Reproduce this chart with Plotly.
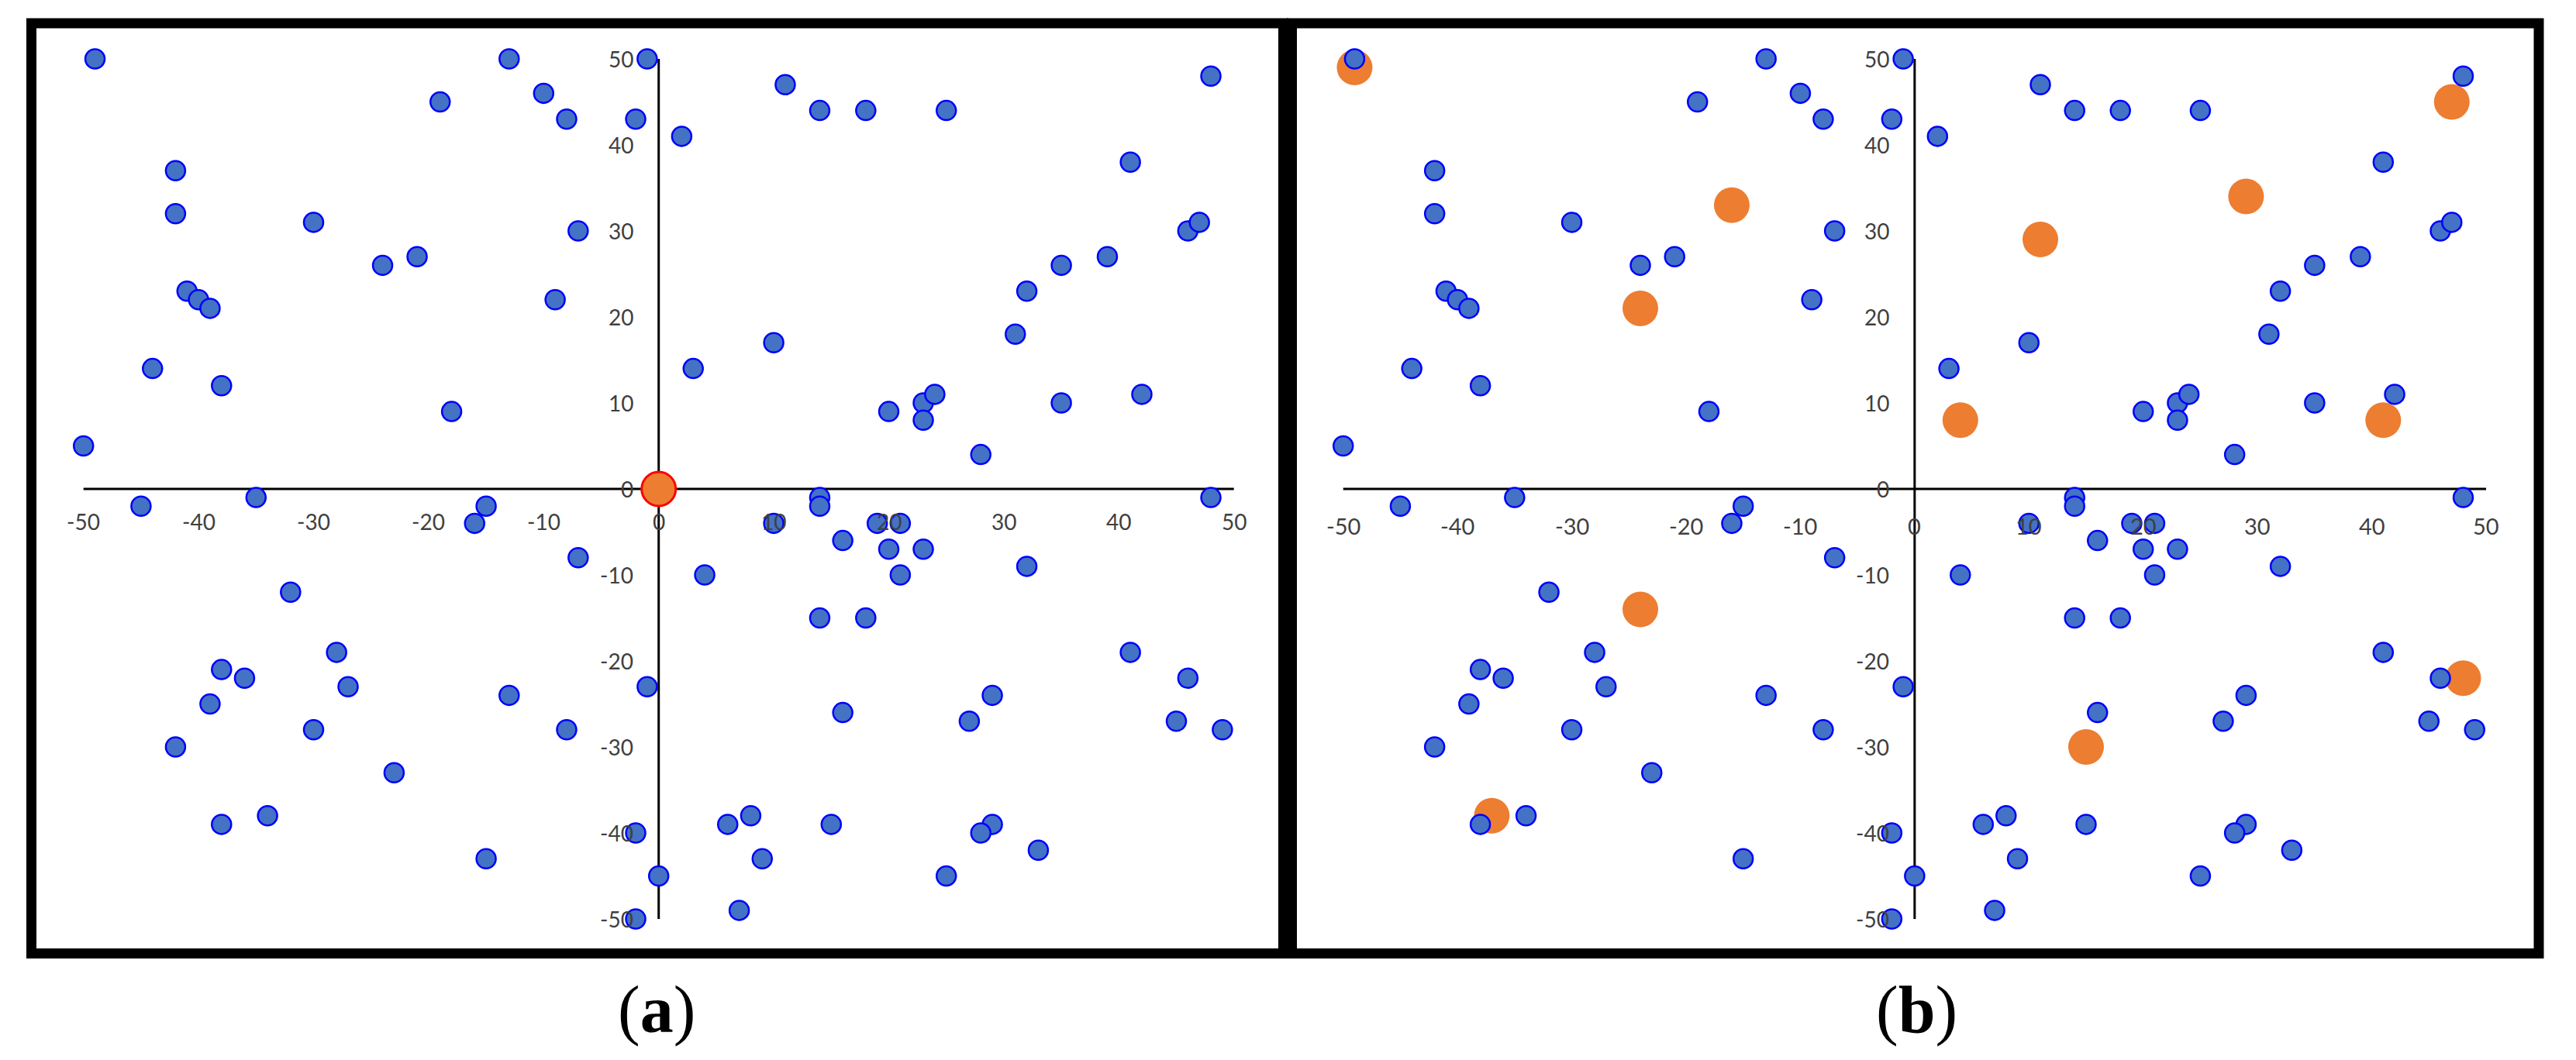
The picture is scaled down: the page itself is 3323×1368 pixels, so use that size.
import plotly.graph_objects as go

W, H = 3323, 1368

# blue points, the same 96 in both panels
blue_x = [-49, -13, -1, -19, -10, -8, -2, -42, -42, -30, -7, -24, -21, -41, -40, -39, -9, -44, -38, -18, -50,
          11, 2, 14, 18, 25, 48, 41, 46, 47, 39, 35, 32, 31, 10, 3, 20, 23, 24, 23, 35, 42, 28,
          -45, -35, -15, -16, -7, -32, -28, -38, -36, -27, -39, -30, -42, -23, -38, -34, -13, -8, -1, -15, -2, 0, -2,
          14, 14, 48, 10, 19, 21, 16, 20, 23, 21, 4, 32, 14, 18, 41, 46, 29, 16, 27, 45, 49, 6, 8, 15, 29, 28, 33, 9, 25, 7]
blue_y = [50, 50, 50, 45, 46, 43, 43, 37, 32, 31, 30, 26, 27, 23, 22, 21, 22, 14, 12, 9, 5,
          47, 41, 44, 44, 44, 48, 38, 30, 31, 27, 26, 23, 18, 17, 14, 9, 10, 11, 8, 10, 11, 4,
          -2, -1, -2, -4, -8, -12, -19, -21, -22, -23, -25, -28, -30, -33, -39, -38, -24, -28, -23, -43, -40, -45, -50,
          -1, -2, -1, -4, -4, -4, -6, -7, -7, -10, -10, -9, -15, -15, -19, -22, -24, -26, -27, -27, -28, -39, -38, -39, -39, -40, -42, -43, -45, -49]

# orange points
orange_a_x = [0]
orange_a_y = [0]
orange_b_x = [-49, -16, -24, 47, 29, 11, 4, 41, -24, -37, 15, 48]
orange_b_y = [49, 33, 21, 45, 34, 29, 8, 8, -14, -38, -30, -22]

ticks = [-50, -40, -30, -20, -10, 0, 10, 20, 30, 40, 50]
panel_labels = ['a', 'b']

BLUE_FILL = '#4472C4'
BLUE_LINE = '#0000FF'
ORANGE = '#ED7D31'
TICK_COLOR = '#404040'

RANGE_X = [-53, 53]
RANGE_Y = [-54, 54]


def x_domain(px_m50, px_p50):
    s = (px_p50 - px_m50) / 100
    return [(px_m50 + (RANGE_X[0] + 50) * s) / W, (px_m50 + (RANGE_X[1] + 50) * s) / W]


def y_domain(py_p50, py_m50):
    s = (py_m50 - py_p50) / 100
    top = py_p50 - (RANGE_Y[1] - 50) * s
    bottom = py_m50 + (-50 - RANGE_Y[0]) * s
    return [1 - bottom / H, 1 - top / H]


fig = go.Figure()

# panel (a)
fig.add_trace(go.Scatter(x=blue_x, y=blue_y, mode='markers', xaxis='x', yaxis='y',
                         marker=dict(size=25, color=BLUE_FILL, line=dict(color=BLUE_LINE, width=2.5))))
fig.add_trace(go.Scatter(x=orange_a_x, y=orange_a_y, mode='markers', xaxis='x', yaxis='y',
                         marker=dict(size=44, color=ORANGE, line=dict(color='#FF0000', width=3))))

# panel (b): orange under the blue
fig.add_trace(go.Scatter(x=orange_b_x, y=orange_b_y, mode='markers', xaxis='x2', yaxis='y2',
                         marker=dict(size=46, color=ORANGE, line=dict(width=0))))
fig.add_trace(go.Scatter(x=blue_x, y=blue_y, mode='markers', xaxis='x2', yaxis='y2',
                         marker=dict(size=25, color=BLUE_FILL, line=dict(color=BLUE_LINE, width=2.5))))

hidden = dict(showgrid=False, zeroline=False, showticklabels=False, showline=False, ticks='', fixedrange=True)

shapes = []
annotations = []
panels = [('x', 'y', 28, -42), ('x2', 'y2', 29, -47)]
for xr, yr, fs, ysh in panels:
    # cross axes through zero
    shapes.append(dict(type='line', xref=xr, yref=yr, x0=-50, x1=50, y0=0, y1=0,
                       line=dict(color='black', width=3), layer='below'))
    shapes.append(dict(type='line', xref=xr, yref=yr, x0=0, x1=0, y0=-50, y1=50,
                       line=dict(color='black', width=3), layer='below'))
    for t in ticks:
        annotations.append(dict(x=t, y=0, xref=xr, yref=yr, text=str(t), showarrow=False, yshift=ysh,
                                font=dict(family='Lato', size=fs, color=TICK_COLOR)))
        annotations.append(dict(x=0, y=t, xref=xr, yref=yr, text=str(t), showarrow=False,
                                xanchor='right', xshift=-31,
                                font=dict(family='Lato', size=28, color=TICK_COLOR)))

# panel frames
for x0, x1 in [(40.5, 1655.5), (1666.5, 3275)]:
    shapes.append(dict(type='rect', xref='paper', yref='paper',
                       x0=x0 / W, x1=x1 / W, y0=1 - 1230.5 / H, y1=1 - 30 / H,
                       line=dict(color='black', width=13), fillcolor='rgba(0,0,0,0)'))

# panel captions
for lab, cx in zip(panel_labels, [847, 2472]):
    annotations.append(dict(x=cx / W, y=1 - 1303 / H, xref='paper', yref='paper',
                            text='(<b>' + lab + '</b>)', showarrow=False,
                            xanchor='center', yanchor='middle',
                            font=dict(family='Liberation Serif', size=86, color='black')))

fig.update_layout(
    width=W, height=H, autosize=False,
    margin=dict(l=0, r=0, t=0, b=0, pad=0),
    paper_bgcolor='white', plot_bgcolor='rgba(0,0,0,0)',
    showlegend=False,
    xaxis=dict(domain=x_domain(107.7, 1591.7), range=RANGE_X, anchor='y', **hidden),
    yaxis=dict(domain=y_domain(76, 1186), range=RANGE_Y, anchor='x', **hidden),
    xaxis2=dict(domain=x_domain(1732.7, 3207), range=RANGE_X, anchor='y2', **hidden),
    yaxis2=dict(domain=y_domain(76, 1186), range=RANGE_Y, anchor='x2', **hidden),
    shapes=shapes,
    annotations=annotations,
)

fig.write_html("out.html", config={'displayModeBar': False},
               post_script="document.body.style.margin='0';document.body.style.overflow='hidden';")
